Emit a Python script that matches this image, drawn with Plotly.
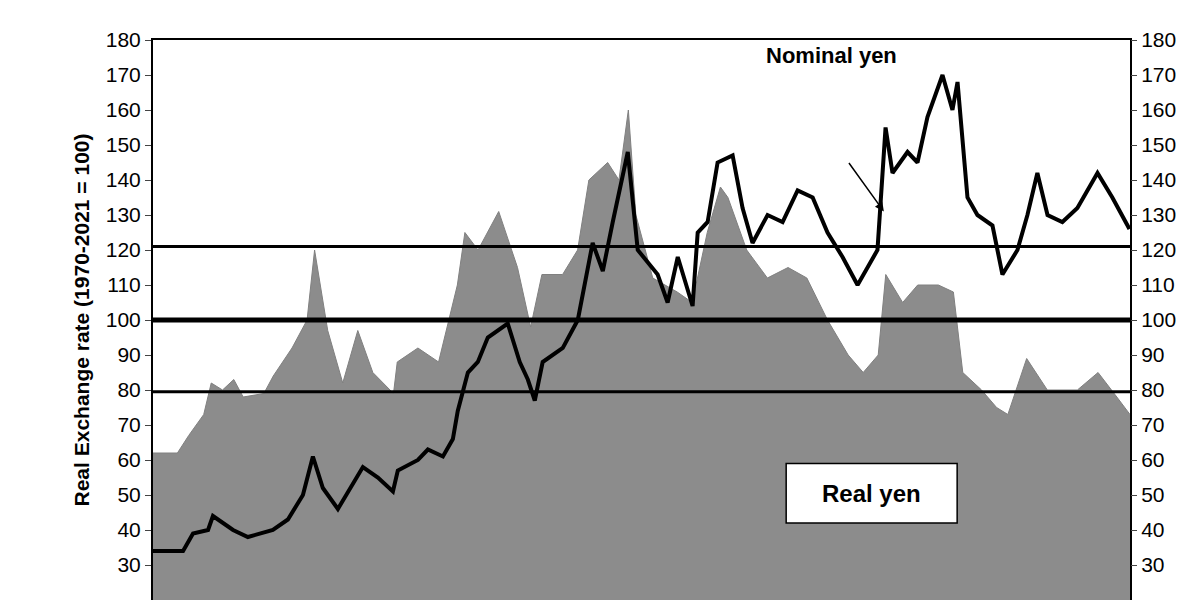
import plotly.graph_objects as go

real_x = [1970.0,1971.3,1971.9,1972.7,1973.1,1973.7,1974.3,1974.8,1975.9,1976.4,1977.4,1978.2,1978.6,1979.3,1980.1,1980.9,1981.7,1982.8,1983.0,1984.1,1985.2,1986.2,1986.6,1987.3,1988.4,1989.4,1990.1,1990.7,1991.8,1992.6,1993.2,1994.2,1994.8,1995.3,1995.7,1996.6,1997.9,1998.7,1999.5,2000.2,2000.6,2001.6,2002.7,2003.8,2004.8,2005.9,2007.0,2007.8,2008.6,2009.0,2009.9,2010.7,2011.8,2012.6,2013.1,2014.1,2014.9,2015.5,2016.5,2017.6,2019.2,2020.3,2021.3,2022.0]
real_y = [62,62,67,73,82,80,83,78,79,84,92,100,120,97,82,97,85,79,88,92,88,110,125,120,131,115,98,113,113,120,140,145,140,160,130,112,108,105,125,138,135,120,112,115,112,100,90,85,90,113,105,110,110,108,85,80,75,73,89,80,80,85,78,73]

nom_px = [145,175,185,200,205,225,240,265,280,295,305,315,330,345,355,370,385,390,410,420,435,445,450,460,470,480,500,512,520,527,535,555,570,585,595,605,620,630,650,660,670,685,690,700,710,725,735,745,760,775,790,805,820,835,850,870,878,885,900,910,920,935,945,950,960,970,985,995,1010,1020,1030,1040,1055,1070,1090,1105,1115,1122]
nom_y = [34,34,39,40,44,40,38,40,43,50,61,52,46,53,58,55,51,57,60,63,61,66,74,85,88,95,99,88,83,77,88,92,100,122,114,128,148,120,113,105,118,104,125,128,145,147,132,122,130,128,137,135,125,118,110,120,155,142,148,145,158,170,160,168,135,130,127,113,120,130,142,130,128,132,142,135,130,126]
nom_x = [round(1970 + (p - 145) / 18.8, 2) for p in nom_px]

ref_lines = [121, 100, 79.5]
ref_widths = [3, 5, 3]
yticks = list(range(20, 181, 10))

fig = go.Figure()
fig.add_trace(go.Scatter(x=real_x, y=real_y, fill='tozeroy', mode='lines',
                         line=dict(color='#808080', width=1), fillcolor='#8c8c8c'))
fig.add_trace(go.Scatter(x=nom_x, y=nom_y, mode='lines', line=dict(color='black', width=4)))
fig.add_trace(go.Scatter(x=[1970], y=[20], yaxis='y2', mode='markers', marker=dict(opacity=0), hoverinfo='skip'))
for v, w in zip(ref_lines, ref_widths):
    fig.add_shape(type='line', xref='paper', x0=0, x1=1, y0=v, y1=v, line=dict(color='black', width=w))
fig.add_shape(type='rect', x0=2003.7, x1=2012.8, y0=42, y1=59, fillcolor='white', line=dict(color='black', width=1.5))
fig.add_annotation(x=2008.25, y=50.5, text='<b>Real yen</b>', showarrow=False, font=dict(size=24, color='black'))
fig.add_annotation(x=2008.9, y=131, ax=-36, ay=-50, text='', showarrow=True,
                   arrowhead=2, arrowsize=1.2, arrowwidth=1.5, arrowcolor='black')
fig.add_annotation(x=2006.1, y=175.5, text='<b>Nominal yen</b>', showarrow=False, font=dict(size=22, color='black'))

fig.update_layout(width=1200, height=600, showlegend=False, plot_bgcolor='white', paper_bgcolor='white',
                  margin=dict(l=145, r=78, t=32, b=8), font=dict(family='Arial, Liberation Sans', size=20, color='black'),
                  xaxis=dict(range=[1970, 2022], showticklabels=False, ticks='outside', dtick=1, ticklen=6,
                             showline=True, linecolor='black', linewidth=2, mirror=True, showgrid=False,
                             zeroline=False, automargin=False),
                  yaxis=dict(range=[20, 180], tickvals=yticks, ticks='outside', ticklen=6, showgrid=False,
                             zeroline=False, showline=True, linecolor='black', linewidth=2, mirror=True,
                             tickfont=dict(size=21), automargin=False,
                             title=dict(text='<b>Real Exchange rate (1970-2021 = 100)</b>', font=dict(size=21), standoff=10)),
                  yaxis2=dict(overlaying='y', side='right', range=[20, 180], tickvals=yticks, ticks='outside',
                              ticklen=6, showgrid=False, tickfont=dict(size=21), automargin=False))
fig.write_html('out.html')
